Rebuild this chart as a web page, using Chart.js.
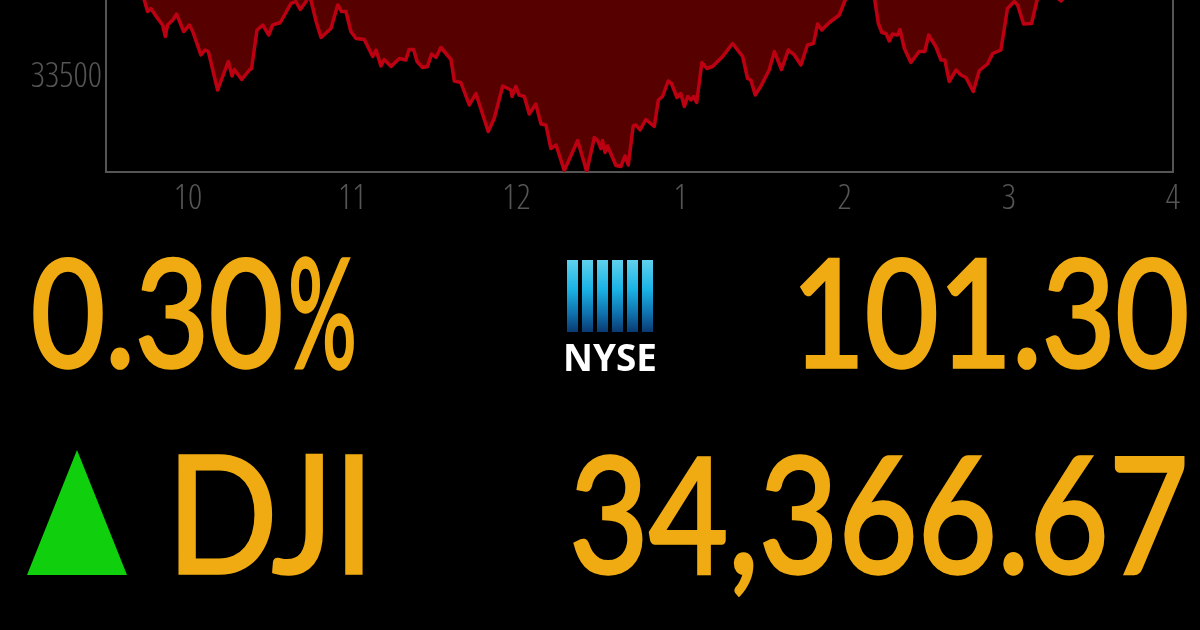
<!DOCTYPE html>
<html>
<head>
<meta charset="utf-8">
<title>DJI</title>
<script src="https://cdn.jsdelivr.net/npm/chart.js@4/dist/chart.umd.min.js"></script>
<style>
html, body { margin: 0; padding: 0; background: #000; overflow: hidden; }
canvas { display: block; filter: blur(0.6px); }
</style>
</head>
<body>
<canvas id="dji-chart" width="1200" height="630"></canvas>
<script>
// minutes after the 9:30 open
const minutes = [
    0, 6, 11, 14, 15.2, 16.4, 18.9, 20.7, 21.7, 22.5, 24.4, 25.8, 28.4, 30.5, 31.7, 34.7, 36.2, 37.4, 40.8, 44.7,
    46.1, 46.9, 49.6, 52.4, 53.2, 55.2, 57.3, 59.5, 60.9, 63.7, 67.6, 69.4, 71, 73.1, 74, 74.9, 76.8, 78.6, 82.2, 84.7,
    86.1, 87.7, 89.5, 91.4, 94.4, 97.5, 98.7, 100.5, 101.7, 104.2, 107.2, 109.6, 110.8, 112.4, 113.7, 115.7, 117.5, 119, 120.6, 122.4,
    126.1, 127.3, 129.7, 132.8, 135.2, 139.7, 141.9, 145, 148, 148.4, 149.8, 151, 152.9, 154.7, 157.1, 159, 160.8, 162.6, 164.5, 167.5,
    172.4, 175.7, 178.5, 179.9, 180.9, 181.5, 182.4, 183.3, 186.4, 188.2, 189.7, 190.9, 192.7, 193.7, 195.2, 197.3, 200.4, 201.9, 203.4, 205.5,
    206.7, 208.7, 210.1, 211.4, 212.6, 213.8, 214.8, 215.9, 217.8, 219.6, 221.7, 225.4, 229, 232.7, 234.5, 235.7, 237.3, 239.4, 242.4, 244.3,
    246.9, 249.4, 251.6, 254, 256.4, 258.6, 260.1, 261.6, 264.4, 268, 270.2, 272.3, 276.5, 279.6, 281, 282.3, 283.6, 285.1, 286.3, 287.5,
    289.3, 290.2, 291.8, 294.2, 297.2, 299.3, 300.7, 303.3, 305.2, 306.6, 308.2, 310.7, 312.5, 314.3, 317, 319.2, 322.2, 324.1, 327.1, 329.5,
    332, 333.2, 335.4, 338.3, 340.3, 344, 349.1, 353, 365, 378, 390,
];
const dowValues = [
    33730, 33710, 33680, 33654, 33631, 33637, 33617, 33604, 33581, 33604, 33614, 33626, 33591, 33604, 33591, 33544, 33554, 33551, 33474, 33531,
    33502, 33515, 33495, 33514, 33517, 33594, 33604, 33584, 33604, 33609, 33647, 33651, 33635, 33651, 33661, 33654, 33611, 33579, 33597, 33644,
    33631, 33631, 33591, 33577, 33575, 33541, 33554, 33522, 33535, 33521, 33537, 33534, 33555, 33555, 33531, 33519, 33521, 33546, 33539, 33559,
    33535, 33492, 33489, 33444, 33467, 33391, 33417, 33482, 33474, 33461, 33481, 33464, 33461, 33426, 33446, 33406, 33404, 33357, 33364, 33313,
    33373, 33311, 33379, 33371, 33357, 33373, 33349, 33362, 33323, 33321, 33342, 33324, 33402, 33404, 33394, 33415, 33401, 33454, 33461, 33492,
    33487, 33459, 33467, 33441, 33461, 33454, 33461, 33449, 33529, 33517, 33521, 33541, 33567, 33541, 33497, 33494, 33464, 33482, 33514, 33551,
    33515, 33554, 33544, 33524, 33564, 33567, 33606, 33594, 33609, 33624, 33654, 33681, 33681, 33667, 33654, 33607, 33589, 33587, 33572, 33586,
    33584, 33595, 33557, 33529, 33551, 33551, 33584, 33561, 33534, 33534, 33491, 33514, 33504, 33499, 33471, 33513, 33526, 33547, 33554, 33637,
    33651, 33644, 33606, 33607, 33654, 33675, 33652, 33680, 33720, 33740, 33760,
];
const hourTicks = [30, 90, 150, 210, 270, 330, 390];
const hourLabels = ["10", "11", "12", "1", "2", "3", "4"];
const priceTicks = [33500];

const percentText = "0.30";
const percentSign = "%";
const pointsText = "101.30";
const nameText = "DJI";
const closeText = "34,366.67";
const exchangeText = "NYSE";

const amber = "#f0ab12";
const axisColor = "#555555";
const bigWeight = 3.5;

// squeeze a string into the box it takes up in the picture
function fitText(ctx, text, left, right, top, baseline, font, weight) {
    ctx.font = font.replace("SIZE", "100px");
    const m = ctx.measureText(text);
    const size = (100 * (baseline - top - weight)) / m.actualBoundingBoxAscent;
    const inkWidth = ((m.actualBoundingBoxLeft + m.actualBoundingBoxRight) * size) / 100;
    const sx = (right - left - weight) / inkWidth;
    ctx.save();
    ctx.translate(left + weight / 2 + ((m.actualBoundingBoxLeft * size) / 100) * sx, baseline - weight / 2);
    ctx.scale(sx, 1);
    ctx.font = font.replace("SIZE", size + "px");
    ctx.fillText(text, 0, 0);
    if (weight > 0) {
        ctx.lineWidth = weight;
        ctx.lineJoin = "miter";
        ctx.miterLimit = 3;
        ctx.strokeText(text, 0, 0);
    }
    ctx.restore();
}

const boardPlugin = {
    id: "board",
    afterDraw(chart) {
        const ctx = chart.ctx;
        ctx.save();
        ctx.textAlign = "left";
        ctx.textBaseline = "alphabetic";

        ctx.fillStyle = amber;
        ctx.strokeStyle = amber;
        fitText(ctx, percentText, 33, 281, 255, 369, "SIZE Lato", bigWeight);
        fitText(ctx, percentSign, 290, 355, 255, 370, "SIZE Lato", bigWeight);
        fitText(ctx, pointsText, 800, 1187, 255, 369, "SIZE Lato", bigWeight);
        fitText(ctx, nameText, 178, 363, 453, 575, "SIZE Lato", bigWeight);
        fitText(ctx, closeText, 573, 1186, 453, 575, "SIZE Lato", bigWeight);

        ctx.fillStyle = "#10d00e";
        ctx.beginPath();
        ctx.moveTo(77, 450);
        ctx.lineTo(127, 575);
        ctx.lineTo(27, 575);
        ctx.closePath();
        ctx.fill();

        const bars = ctx.createLinearGradient(0, 260, 0, 332);
        bars.addColorStop(0, "#5fd0ec");
        bars.addColorStop(0.4, "#1bb4e6");
        bars.addColorStop(0.75, "#0f70ac");
        bars.addColorStop(1, "#0a3a72");
        ctx.fillStyle = bars;
        [567, 582, 597, 612, 627, 642].forEach((x) => ctx.fillRect(x, 260, 11, 72));

        ctx.fillStyle = "#ffffff";
        ctx.strokeStyle = "#ffffff";
        fitText(ctx, exchangeText, 566, 655, 343, 371, "bold SIZE 'Open Sans'", 0);
        ctx.restore();
    },
};

new Chart(document.querySelector("#dji-chart"), {
    type: "line",
    data: {
        datasets: [
            {
                data: minutes.map((m, i) => ({ x: m, y: dowValues[i] })),
                borderColor: "#bc0012",
                borderWidth: 3.5,
                borderJoinStyle: "round",
                backgroundColor: "#560000",
                fill: "end",
                pointRadius: 0,
                tension: 0,
            },
        ],
    },
    options: {
        responsive: false,
        animation: false,
        layout: { padding: { left: 0, right: 27, top: 0, bottom: 0 } },
        plugins: { legend: { display: false }, tooltip: { enabled: false } },
        scales: {
            x: {
                type: "linear",
                min: 0,
                max: 390,
                afterBuildTicks: (scale) => {
                    scale.ticks = hourTicks.map((v) => ({ value: v }));
                },
                afterFit: (scale) => {
                    scale.height = 458;
                    scale.paddingLeft = 0;
                    scale.paddingRight = 0;
                },
                ticks: {
                    autoSkip: false,
                    maxRotation: 0,
                    padding: 6,
                    color: axisColor,
                    font: { family: "'Open Sans'", weight: "300 condensed", size: 35 },
                    callback: (v) => hourLabels[hourTicks.indexOf(v)],
                },
                grid: {
                    drawTicks: false,
                    lineWidth: 2,
                    color: (c) => (c.tick.value === 390 ? axisColor : "transparent"),
                },
                border: { color: axisColor, width: 2 },
            },
            y: {
                min: 33310,
                max: 33654,
                afterBuildTicks: (scale) => {
                    scale.ticks = priceTicks.map((v) => ({ value: v }));
                },
                afterFit: (scale) => {
                    scale.width = 106;
                    scale.paddingTop = 0;
                    scale.paddingBottom = 0;
                },
                ticks: {
                    padding: 4,
                    color: axisColor,
                    font: { family: "'Open Sans'", weight: "300 condensed", size: 35 },
                    callback: (v) => String(v),
                },
                grid: { display: false, drawTicks: false },
                border: { color: axisColor, width: 2 },
            },
        },
    },
    plugins: [boardPlugin],
});
</script>
</body>
</html>
